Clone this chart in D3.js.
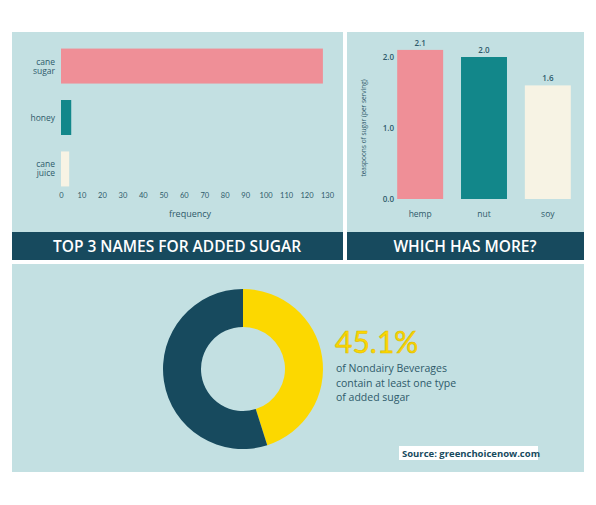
<!DOCTYPE html>
<html><head><meta charset="utf-8">
<script src="https://cdn.jsdelivr.net/npm/d3@7"></script>
<style>body{margin:0;background:#fff}text{font-family:"Open Sans",sans-serif}</style>
</head><body><div class="chart"></div>
<script>
  // data
  const sugarNames = ['cane sugar', 'honey', 'cane juice'];
  const sugarFreq = [128, 5, 4];
  const freqTicks = d3.range(0, 131, 10);
  const milkTypes = ['hemp', 'nut', 'soy'];
  const milkSugar = [2.1, 2.0, 1.6];
  const sugarTicks = [0, 1, 2];
  const donutParts = [45.1, 54.9];

  const bg = '#c3e0e2';
  const dark = '#174a5e';
  const ink = '#2e5a6a';
  const barColors = ['#ef8f97', '#12878a', '#f7f3e4'];

  const svg = d3.select('.chart').append('svg')
    .attr('width', 596).attr('height', 505);

  // panels
  svg.append('rect').attr('x', 12).attr('y', 32).attr('width', 331).attr('height', 228).attr('fill', bg);
  svg.append('rect').attr('x', 347).attr('y', 32).attr('width', 237).attr('height', 228).attr('fill', bg);
  svg.append('rect').attr('x', 12).attr('y', 264).attr('width', 572).attr('height', 208).attr('fill', bg);
  svg.append('rect').attr('x', 12).attr('y', 232).attr('width', 331).attr('height', 28).attr('fill', dark);
  svg.append('rect').attr('x', 347).attr('y', 232).attr('width', 237).attr('height', 28).attr('fill', dark);

  const title = (x, t) => svg.append('text').attr('x', x).attr('y', 252)
    .attr('text-anchor', 'middle').attr('fill', '#fff')
    .style('font-size', '15.5px').style('font-weight', 600).text(t);
  title(177, 'TOP 3 NAMES FOR ADDED SUGAR');
  title(465, 'WHICH HAS MORE?');

  // ---- horizontal bar chart
  const x = d3.scaleLinear().domain([0, 130]).range([61, 327]);
  const y = d3.scaleBand().domain(sugarNames).range([46, 189]).paddingInner(0.32).paddingOuter(0.05);

  svg.selectAll('rect.hbar').data(sugarNames).enter().append('rect')
    .attr('class', 'hbar')
    .attr('x', x(0)).attr('y', (d) => y(d))
    .attr('width', (d, i) => x(sugarFreq[i]) - x(0))
    .attr('height', y.bandwidth())
    .attr('fill', (d, i) => barColors[i]);

  const xAxis = svg.append('g').attr('transform', 'translate(0,186)')
    .call(d3.axisBottom(x).tickValues(freqTicks).tickSize(0).tickPadding(7));
  xAxis.select('.domain').remove();
  xAxis.selectAll('text').attr('fill', ink).style('font-size', '7.5px').style('font-family', 'Lato, sans-serif');

  svg.append('text').attr('x', 190).attr('y', 217).attr('text-anchor', 'middle')
    .attr('fill', ink).style('font-size', '9px').text('frequency');

  svg.selectAll('text.ylab').data(sugarNames).enter().append('text')
    .attr('class', 'ylab').attr('text-anchor', 'end').attr('fill', ink).style('font-size', '8.5px')
    .each(function(d) {
      const words = d.split(' ');
      const cy = y(d) + y.bandwidth() / 2;
      const t = d3.select(this);
      words.forEach((w, k) => t.append('tspan').attr('x', 55)
        .attr('y', cy + 3 + (k - (words.length - 1) / 2) * 9).text(w));
    });

  // ---- vertical bar chart
  const xb = d3.scaleBand().domain(milkTypes).range([394, 574]).paddingInner(0.28).paddingOuter(0.05);
  const yb = d3.scaleLinear().domain([0, 2]).range([199, 57]);

  svg.selectAll('rect.vbar').data(milkTypes).enter().append('rect')
    .attr('class', 'vbar')
    .attr('x', (d) => xb(d)).attr('width', xb.bandwidth())
    .attr('y', (d, i) => yb(milkSugar[i]))
    .attr('height', (d, i) => yb(0) - yb(milkSugar[i]))
    .attr('fill', (d, i) => barColors[i]);

  svg.selectAll('text.vval').data(milkTypes).enter().append('text')
    .attr('class', 'vval').attr('text-anchor', 'middle').attr('fill', ink)
    .style('font-size', '8px').style('font-weight', 600)
    .attr('x', (d) => xb(d) + xb.bandwidth() / 2)
    .attr('y', (d, i) => yb(milkSugar[i]) - 4)
    .text((d, i) => milkSugar[i].toFixed(1));

  const yAxis = svg.append('g').attr('transform', 'translate(396,0)')
    .call(d3.axisLeft(yb).tickValues(sugarTicks).tickFormat(d3.format('.1f')).tickSize(0).tickPadding(2));
  yAxis.select('.domain').remove();
  yAxis.selectAll('text').attr('fill', ink).style('font-size', '8px').style('font-weight', 600);

  const xbAxis = svg.append('g').attr('transform', 'translate(0,203)')
    .call(d3.axisBottom(xb).tickSize(0).tickPadding(8));
  xbAxis.select('.domain').remove();
  xbAxis.selectAll('text').attr('fill', ink).style('font-size', '8.5px');

  svg.append('text').attr('transform', 'translate(366,128) rotate(-90)')
    .attr('text-anchor', 'middle').attr('fill', ink).style('font-size', '6.5px')
    .text('teaspoons of sugar (per serving)');

  // ---- donut
  const pie = d3.pie().sort(null)(donutParts);
  const arc = d3.arc().innerRadius(42).outerRadius(80);
  svg.append('g').attr('transform', 'translate(243,369)')
    .selectAll('path').data(pie).enter().append('path')
    .attr('d', arc).attr('fill', (d, i) => (i === 0 ? '#fcd800' : dark));

  svg.append('text').attr('x', 335).attr('y', 353).attr('fill', '#fcd800')
    .attr('stroke', '#e0bb00').attr('stroke-width', 0.6)
    .style('font-size', '30px').style('font-family', 'Lato, sans-serif')
    .text(donutParts[0] + '%');
  ['of Nondairy Beverages', 'contain at least one type', 'of added sugar'].forEach((t, k) => {
    svg.append('text').attr('x', 336).attr('y', 372 + k * 14.5).attr('fill', ink)
      .style('font-size', '10.5px').text(t);
  });

  svg.append('rect').attr('x', 399).attr('y', 446).attr('width', 139).attr('height', 14).attr('fill', '#fff');
  svg.append('text').attr('x', 402).attr('y', 457).attr('fill', dark)
    .style('font-size', '9.5px').style('font-weight', 700).text('Source: greenchoicenow.com');
</script></body></html>
